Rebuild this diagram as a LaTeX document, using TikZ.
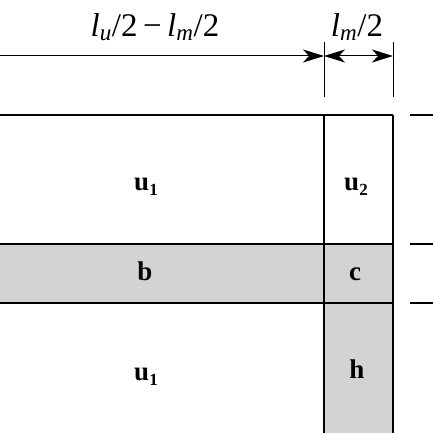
\documentclass[tikz,border=0pt]{standalone}
\usepackage{fontspec}
\setmainfont{Liberation Serif}
\usetikzlibrary{arrows.meta}
\definecolor{cellgray}{HTML}{D1D3D4}
\tikzset{dimtip/.tip={Stealth[length=21pt,width=13pt,inset=6pt]}}
\newcommand{\cellsub}[1]{\raisebox{-5pt}{\fontsize{17}{19}\selectfont #1}}
\begin{document}
\begin{tikzpicture}[x=1pt,y=-1pt,
  edge/.style={line width=1.2pt,black},
  dim/.style={line width=1pt,black},
  lbl/.style={font=\fontsize{27}{30}\selectfont\bfseries,anchor=base,inner sep=0pt},
  dimlbl/.style={font=\fontsize{33}{36}\selectfont,anchor=base,inner sep=0pt}]
\useasboundingbox (0,0) rectangle (433,433);
% coordinates
\coordinate (L0) at (0,56);
\coordinate (A) at (324,56);
\coordinate (B) at (393,56);
% shaded areas
\fill[cellgray] (0,244) rectangle (393,303);
\fill[cellgray] (324,303) rectangle (393,433);
% outlines
\draw[edge] (0,115) -- (393,115);
\draw[edge] (0,244) -- (393,244);
\draw[edge] (0,303) -- (393,303);
\draw[edge] (324,115) -- (324,433);
\draw[edge] (393,115) -- (393,433);
% side ticks
\draw[edge] (410,115) -- (433,115);
\draw[edge] (410,244) -- (433,244);
\draw[edge] (410,303) -- (433,303);
% extension lines
\draw[dim] (324,42) -- (324,97);
\draw[dim] (393,42) -- (393,97);
% dimension lines
\draw[dim,-dimtip] (L0) -- (A);
\draw[dim,dimtip-dimtip] (A) -- (B);
% dimension labels
\node[dimlbl] (d1) at (155,37) {\textit{l}\textsubscript{\textit{u}}/2\,−\,\textit{l}\textsubscript{\textit{m}}/2};
\node[dimlbl] (d2) at (357,37) {\textit{l}\textsubscript{\textit{m}}/2};
% cell labels
\node[lbl] (u1a) at (146,190) {u\cellsub{1}};
\node[lbl] (u2) at (356,190) {u\cellsub{2}};
\node[lbl] (b) at (145,280) {b};
\node[lbl] (c) at (355,280) {c};
\node[lbl] (u1b) at (146,380) {u\cellsub{1}};
\node[lbl] (h) at (357,378) {h};
\end{tikzpicture}
\end{document}
